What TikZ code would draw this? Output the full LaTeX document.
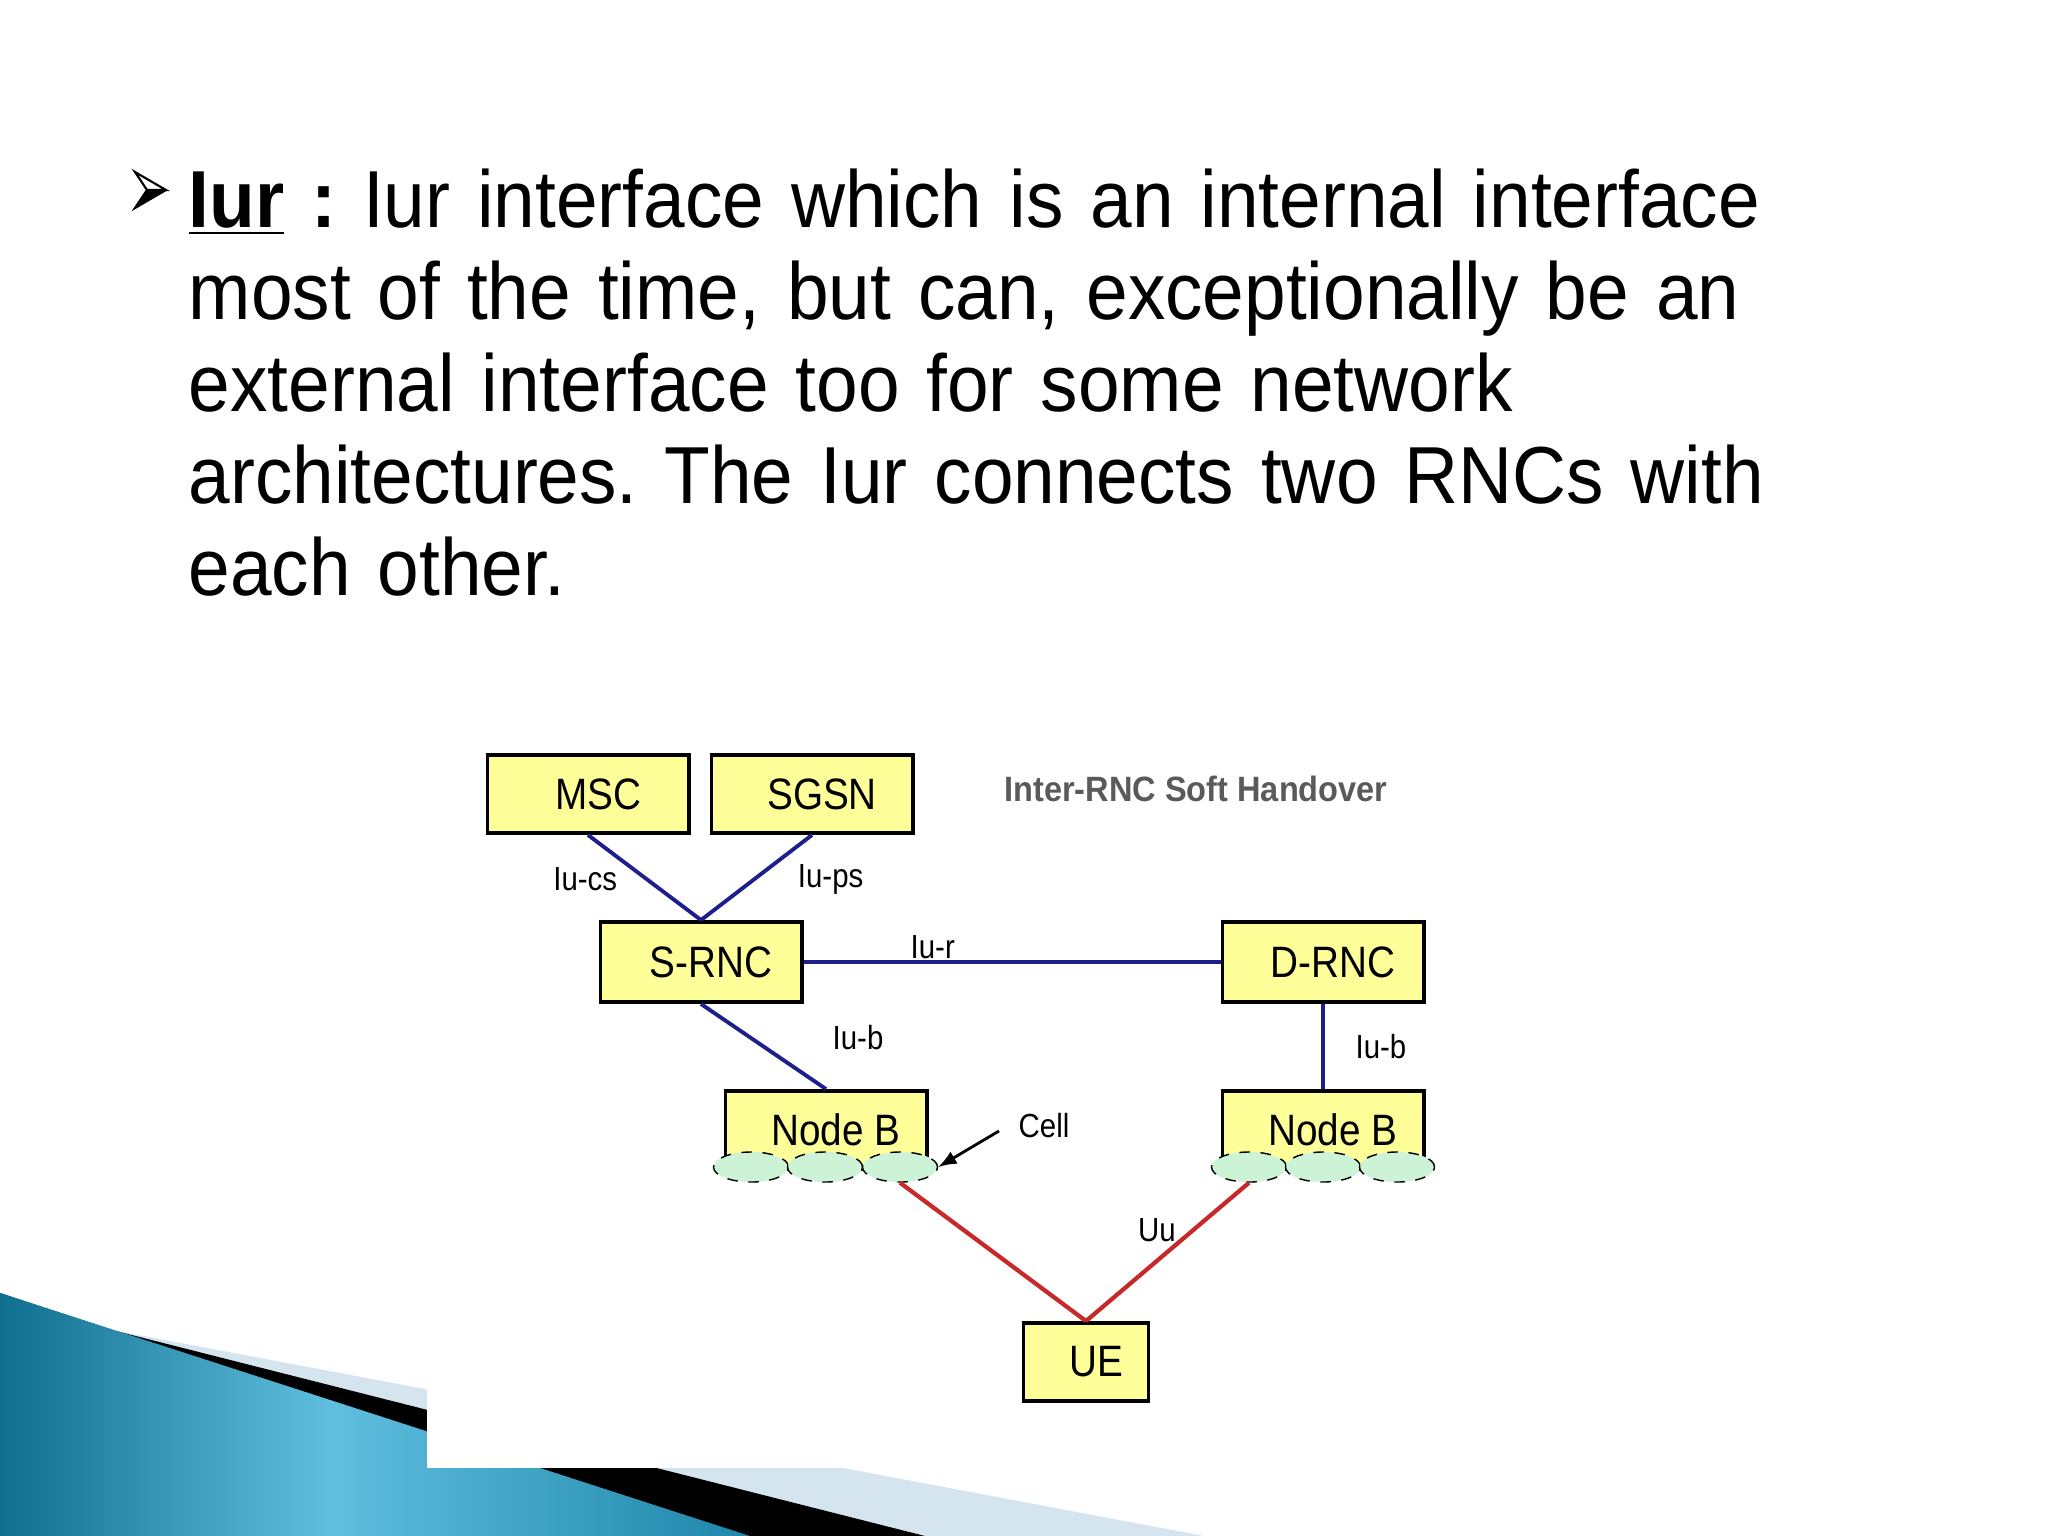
\documentclass[tikz,border=0pt]{standalone}
\usepackage{fontspec}
\setmainfont{Liberation Sans}[FakeStretch=0.925]
\newfontfamily\diagfont{Liberation Sans}[FakeStretch=0.88]
\usetikzlibrary{shapes.geometric}

\definecolor{boxyellow}{RGB}{255,255,153}
\definecolor{cellgreen}{RGB}{204,243,214}
\definecolor{linkblue}{RGB}{30,30,140}
\definecolor{linkred}{RGB}{200,40,40}
\definecolor{tealdark}{RGB}{16,110,142}
\definecolor{teallight}{RGB}{96,190,222}
\definecolor{tealmid}{RGB}{30,135,170}
\definecolor{bandlight}{RGB}{212,229,240}
\definecolor{titlegray}{RGB}{90,90,90}

\tikzset{
  unit/.style={draw=black, line width=1.1pt, fill=boxyellow, minimum width=2.01cm,
    minimum height=0.78cm, inner sep=0pt, font=\diagfont\fontsize{12.5}{14}\selectfont,
    execute at begin node=\hspace*{0.2cm}},
  cell/.style={ellipse, draw=black, dashed, thin, fill=cellgreen, minimum width=0.75cm,
    minimum height=0.3cm, inner sep=0pt},
  iface/.style={font=\diagfont\fontsize{9.5}{11}\selectfont},
  wired/.style={draw=linkblue, line width=1.1pt},
  radio/.style={draw=linkred, line width=1.2pt},
}

\begin{document}
\frenchspacing
\begin{tikzpicture}[x=0.01cm, y=-0.01cm]
  \useasboundingbox (0,0) rectangle (2048,1536);

  % corner decoration
  \fill[bandlight] (112,1330) -- (1204,1536) -- (0,1536) -- (0,1293) -- cycle;
  \fill[black] (112,1330) -- (925,1536) -- (0,1536) -- (0,1293) -- cycle;
  \begin{scope}
    \clip (0,1293) -- (750,1536) -- (0,1536) -- cycle;
    \shade[left color=tealdark, right color=teallight] (0,1280) rectangle (331,1536);
    \shade[left color=teallight, right color=tealmid] (330,1280) rectangle (750,1536);
  \end{scope}
  \fill[white] (427,735) rectangle (1500,1468);

  % bullet text
  \fill[black] (147,190) -- (166,190) -- (135,208) -- cycle;
  \draw[fill=white, line width=0.6pt] (135,172) -- (166,190) -- (147,190) -- cycle;
  \draw[line width=0.6pt] (147,190) -- (135,208) -- (166,190);
  \node[anchor=north west, inner sep=0pt, text width=18cm, align=left,
    font=\fontsize{23}{26.2}\selectfont] (body) at (188,168)
    {\underline{\textbf{Iur}} \textbf{:} Iur interface which is an internal interface\\
     most of the time, but can, exceptionally be an\\
     external interface too for some network\\
     architectures. The Iur connects two RNCs with\\
     each other.};

  % network
  \node[unit] (MSC) at (588,794) {MSC};
  \node[unit] (SGSN) at (812,794) {SGSN};
  \node[unit, minimum height=0.8cm] (SRNC) at (701,962) {S-RNC};
  \node[unit, minimum height=0.8cm] (DRNC) at (1323,962) {D-RNC};
  \node[unit] (NB1) at (826,1130) {Node B};
  \node[unit] (NB2) at (1323,1130) {Node B};
  \node[unit, minimum width=1.25cm] (UE) at (1086,1362) {UE};
  \node[font=\bfseries\fontsize{10}{12}\selectfont, text=titlegray] (title) at (1196,789)
    {Inter-RNC Soft Handover};

  \node[cell] (c1) at (751,1167) {};
  \node[cell] (c2) at (825,1167) {};
  \node[cell] (c3) at (900,1167) {};
  \node[cell] (d1) at (1249,1167) {};
  \node[cell] (d2) at (1323,1167) {};
  \node[cell] (d3) at (1397,1167) {};

  \draw[wired] (MSC.south) -- (SRNC.north) node[iface, pos=0.52, left=0.16cm] (lcs) {Iu-cs};
  \draw[wired] (SGSN.south) -- (SRNC.north) node[iface, pos=0.52, right=0.3cm] (lps) {Iu-ps};
  \draw[wired] (SRNC.east) -- (DRNC.west) node[iface, pos=0.31, above=-3pt] (lr) {Iu-r};
  \draw[wired] (SRNC.south) -- (NB1.north) node[iface, pos=0.4, right=0.68cm] (lb1) {Iu-b};
  \draw[wired] (DRNC.south) -- (NB2.north) node[iface, midway, right=0.19cm] (lb2) {Iu-b};
  \draw[radio] (c3.south) -- (UE.north);
  \draw[radio] (d1.south) -- (UE.north) node[iface, pos=0.34, left=0.04cm] (luu) {Uu};

  \node[iface] (lcell) at (1044,1126) {Cell};
  \coordinate (cellfrom) at (999,1131);
  \draw[->, >=latex, line width=0.8pt] (cellfrom) -- (c3.east);
\end{tikzpicture}
\end{document}
